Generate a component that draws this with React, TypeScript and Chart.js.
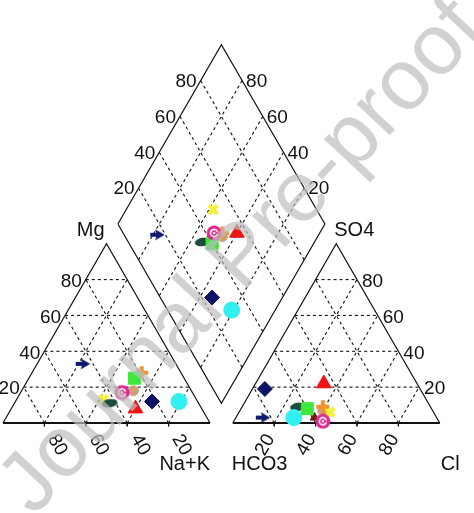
import React, { useEffect, useRef } from 'react';
import { Chart, registerables } from 'chart.js';

Chart.register(...registerables);

// ---------- data (percent of meq) ----------
const sampleNames = ['S1', 'S2', 'S3', 'S4', 'S5', 'S6', 'S7', 'S8', 'S9', 'S10', 'S11'];
const caPct   = [45, 45, 34, 32, 22,  9, 43, 24, 19, 28, 24];
const mgPct   = [33, 13, 17,  8, 12, 12, 11, 25, 28, 18, 24];
const naKPct  = [22, 42, 49, 60, 66, 79, 46, 51, 53, 54, 52];
const hco3Pct = [84, 50, 56, 45, 75, 69, 64, 60, 52, 53, 59];
const so4Pct  = [ 3,  6,  1, 22, 19,  3,  9,  8,  9,  7,  3];
const clPct   = [13, 44, 43, 33,  6, 28, 27, 32, 39, 40, 38];

const gridTicks = [20, 40, 60, 80];
const leftBaseLabels = ['80', '60', '40', '20'];
const rightBaseLabels = ['20', '40', '60', '80'];

// ---------- geometry helpers (ternary -> cartesian, in percent units) ----------
const G = 11;
const H = Math.sqrt(3) / 2;
const cartL = (na: number, mg: number) => ({ x: na + mg / 2, y: H * mg });
const cartR = (cl: number, so4: number) => ({ x: 100 + G + cl + so4 / 2, y: H * so4 });
const cartD = (na: number, sc: number) => ({ x: (na + 100 + G + sc) / 2, y: H * (100 + G + sc - na) });

// layout constants
const PXU = 2.07;
const OX = 3;
const OY = 423;
const W = 474;
const HT = 513;

function mk(w: number, h: number, draw: (c: CanvasRenderingContext2D) => void) {
  const cv = document.createElement('canvas');
  cv.width = w;
  cv.height = h;
  const c = cv.getContext('2d')!;
  draw(c);
  return cv;
}

function arrowIcon(color: string) {
  return mk(16, 12, (c) => {
    c.fillStyle = color;
    c.beginPath();
    c.moveTo(1, 4);
    c.lineTo(7, 4);
    c.lineTo(6, 0.5);
    c.lineTo(15.5, 6);
    c.lineTo(6, 11.5);
    c.lineTo(7, 8);
    c.lineTo(1, 8);
    c.closePath();
    c.fill();
  });
}
function targetIcon(color: string) {
  return mk(16, 16, (c) => {
    c.fillStyle = color;
    c.beginPath();
    c.arc(8, 8, 7.5, 0, Math.PI * 2);
    c.fill();
    c.strokeStyle = '#ffffff';
    c.lineWidth = 1.6;
    c.beginPath();
    c.arc(8, 8, 3.6, 0.3, Math.PI * 2 - 0.2);
    c.stroke();
    c.fillStyle = '#ffffff';
    c.beginPath();
    c.arc(8, 8, 1.2, 0, Math.PI * 2);
    c.fill();
  });
}
function leafIcon(color: string) {
  return mk(18, 12, (c) => {
    c.fillStyle = color;
    c.beginPath();
    c.ellipse(9, 6, 8, 4.2, -0.15, 0, Math.PI * 2);
    c.fill();
  });
}

export default function App() {
  const ref = useRef<HTMLCanvasElement | null>(null);

  useEffect(() => {
    if (!ref.current) return;

    // z: higher = drawn later (on top)
    const markerStyles: any[] = [
      { pointStyle: arrowIcon('#0f1a6e'), color: '#0f1a6e', radius: 8, bw: 1, z: 5 },
      { pointStyle: 'crossRot', color: '#f4f232', radius: 6, bw: 4, z: 3 },
      { pointStyle: targetIcon('#e1278d'), color: '#e1278d', radius: 8, bw: 1, z: 9 },
      { pointStyle: 'triangle', color: '#ee1414', radius: 8.5, bw: 1, z: 8 },
      { pointStyle: 'rectRot', color: '#0d1466', radius: 7.5, bw: 1, z: 5 },
      { pointStyle: 'circle', color: '#30f0f0', radius: 8, bw: 1, z: 4 },
      { pointStyle: leafIcon('#1c4a3e'), color: '#1c4a3e', radius: 8, bw: 1, z: 4 },
      { pointStyle: 'rect', color: '#3ee83a', radius: 8.5, bw: 1, z: 6 },
      { pointStyle: 'cross', color: '#f0902e', radius: 6.5, bw: 4, z: 5 },
      { pointStyle: 'circle', color: '#c9a07a', radius: 5, bw: 1, z: 2 },
      { pointStyle: 'triangle', color: '#6e2010', radius: 5, bw: 1, z: 1 },
    ];

    const datasets: any[] = [];
    const seg = (pts: { x: number; y: number }[], opts: any = {}) => {
      datasets.push({
        data: pts,
        showLine: true,
        pointRadius: 0,
        pointHoverRadius: 0,
        borderColor: '#111111',
        borderWidth: 1.2,
        fill: false,
        tension: 0,
        order: 100,
        ...opts,
      });
    };
    const dash = { borderDash: [3, 3], borderWidth: 1.1, order: 120 };

    // grid lines
    gridTicks.forEach((v) => {
      seg([cartL(0, v), cartL(100 - v, v)], dash);
      seg([cartL(v, 0), cartL(v, 100 - v)], dash);
      seg([cartL(100 - v, 0), cartL(0, 100 - v)], dash);
      seg([cartR(0, v), cartR(100 - v, v)], dash);
      seg([cartR(v, 0), cartR(v, 100 - v)], dash);
      seg([cartR(100 - v, 0), cartR(0, 100 - v)], dash);
      seg([cartD(0, v), cartD(100, v)], dash);
      seg([cartD(v, 0), cartD(v, 100)], dash);
      seg([{ x: v, y: 0 }, { x: v, y: -1.6 }], { borderWidth: 1 });
      seg([{ x: 100 + G + v, y: 0 }, { x: 100 + G + v, y: -1.6 }], { borderWidth: 1 });
    });

    // outlines
    seg([cartL(0, 0), cartL(0, 100), cartL(100, 0)]);
    seg([cartL(0, 0), cartL(100, 0)], { borderWidth: 2 });
    seg([cartR(0, 0), cartR(0, 100), cartR(100, 0)]);
    seg([cartR(0, 0), cartR(100, 0)], { borderWidth: 2 });
    seg([cartD(0, 0), cartD(0, 100), cartD(100, 100), cartD(100, 0), cartD(0, 0)]);

    // samples
    sampleNames.forEach((name, i) => {
      const st = markerStyles[i];
      datasets.push({
        label: name,
        data: [
          cartL(naKPct[i], mgPct[i]),
          cartR(clPct[i], so4Pct[i]),
          cartD(naKPct[i], so4Pct[i] + clPct[i]),
        ],
        showLine: false,
        pointStyle: st.pointStyle,
        pointRadius: st.radius,
        pointHoverRadius: st.radius,
        pointBackgroundColor: st.color,
        pointBorderColor: st.color,
        pointBorderWidth: st.bw,
        order: 50 - st.z,
      });
    });

    const font = "'Liberation Sans', Arial, sans-serif";

    const labelPlugin = {
      id: 'piperLabels',
      afterDatasetsDraw(chart: any) {
        const ctx = chart.ctx as CanvasRenderingContext2D;
        const xs = chart.scales.x;
        const ys = chart.scales.y;
        const px = (p: { x: number; y: number }) => ({ x: xs.getPixelForValue(p.x), y: ys.getPixelForValue(p.y) });
        ctx.save();
        ctx.fillStyle = '#111111';
        ctx.font = `19px ${font}`;
        ctx.textBaseline = 'middle';

        gridTicks.forEach((v, k) => {
          let p = px(cartL(0, v));
          ctx.textAlign = 'right';
          ctx.fillText(String(v), p.x - 4, p.y + 2);
          p = px(cartR(100 - v, v));
          ctx.textAlign = 'left';
          ctx.fillText(String(v), p.x + 5, p.y + 2);
          p = px(cartD(0, v));
          ctx.textAlign = 'right';
          ctx.fillText(String(v), p.x - 4, p.y + 1);
          p = px(cartD(100 - v, 100));
          ctx.textAlign = 'left';
          ctx.fillText(String(v), p.x + 4, p.y + 1);

          p = px({ x: v, y: 0 });
          ctx.save();
          ctx.translate(p.x + 13, p.y + 22);
          ctx.rotate(Math.PI / 3);
          ctx.textAlign = 'center';
          ctx.fillText(leftBaseLabels[k], 0, 0);
          ctx.restore();

          p = px({ x: 100 + G + v, y: 0 });
          ctx.save();
          ctx.translate(p.x - 9, p.y + 22);
          ctx.rotate(-Math.PI / 3);
          ctx.textAlign = 'center';
          ctx.fillText(rightBaseLabels[k], 0, 0);
          ctx.restore();
        });

        ctx.font = `20px ${font}`;
        let p = px(cartL(0, 100));
        ctx.textAlign = 'right';
        ctx.fillText('Mg', p.x - 2, p.y - 13);
        p = px(cartR(0, 100));
        ctx.textAlign = 'left';
        ctx.fillText('SO4', p.x - 2, p.y - 13);
        p = px(cartL(100, 0));
        ctx.textAlign = 'right';
        ctx.fillText('Na+K', p.x, p.y + 41);
        p = px(cartR(0, 0));
        ctx.textAlign = 'left';
        ctx.fillText('HCO3', p.x - 1, p.y + 41);
        p = px(cartR(100, 0));
        ctx.textAlign = 'left';
        ctx.fillText('Cl', p.x + 1, p.y + 41);
        ctx.restore();
      },
      afterDraw(chart: any) {
        const ctx = chart.ctx as CanvasRenderingContext2D;
        ctx.save();
        ctx.translate(243, 258);
        ctx.rotate((-47 * Math.PI) / 180);
        ctx.font = `86px ${font}`;
        ctx.fillStyle = 'rgba(190,190,190,0.7)';
        ctx.textAlign = 'center';
        ctx.textBaseline = 'middle';
        ctx.fillText('Journal Pre-proof', 0, 0);
        ctx.restore();
      },
    };

    const chart = new Chart(ref.current, {
      type: 'scatter',
      data: { datasets },
      options: {
        animation: false,
        responsive: false,
        maintainAspectRatio: false,
        devicePixelRatio: 1,
        layout: { padding: 0, autoPadding: false },
        plugins: { legend: { display: false }, tooltip: { enabled: false } },
        events: [],
        scales: {
          x: { type: 'linear', display: false, min: -OX / PXU, max: (W - OX) / PXU },
          y: { type: 'linear', display: false, min: -(HT - OY) / PXU, max: OY / PXU },
        },
      },
      plugins: [labelPlugin],
    } as any);

    return () => chart.destroy();
  }, []);

  return (
    <div style={{ position: 'absolute', left: 0, top: 0, width: W, height: HT, background: '#ffffff' }}>
      <canvas ref={ref} width={W} height={HT} style={{ display: 'block' }} />
    </div>
  );
}
